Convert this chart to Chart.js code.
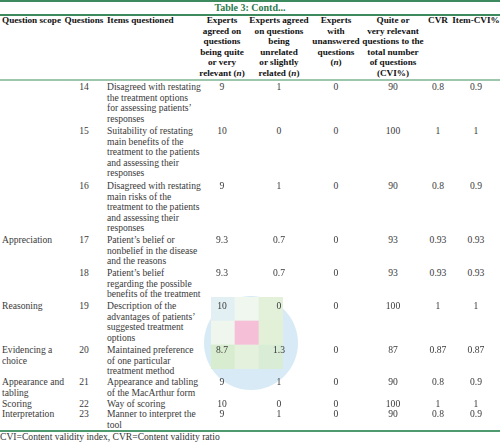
<!DOCTYPE html>
<html><head><meta charset="utf-8">
<script src="https://cdn.jsdelivr.net/npm/chart.js@4"></script>
<style>
body{margin:0;width:500px;height:442px;background:#fff;font-family:"Liberation Serif","Times New Roman",serif;position:relative;overflow:hidden}
#title{position:absolute;left:0;top:0;width:500px;height:12px;border-top:2px solid #3d8a5f;border-bottom:2px solid #3d8a5f;text-align:center;color:#2d7a4c;font-weight:bold;font-size:10px;line-height:12px}
.c{position:absolute;font-size:9.6px;line-height:10.6px;color:#3a3a3a;white-space:nowrap;z-index:3}
.h{font-weight:bold;color:#111;font-size:9.2px}
.ctr{transform:translateX(-50%);text-align:center}
#hline{position:absolute;left:0;top:79px;width:500px;border-top:2px solid #9cc7ac}
#foot{position:absolute;left:0;top:430px;width:500px;border-top:2px solid #4f9a6e;font-size:9.6px;color:#333;line-height:10px}
#wrap{position:absolute;left:203px;top:295px;width:96px;height:96px;opacity:.9}
#gwrap{position:absolute;left:211px;top:297px;width:72px;height:72px;z-index:2}
</style></head><body>
<div id="title">Table 3: Contd...</div>
<div id="hline"></div>
<div id="wrap"><canvas id="blob" width="96" height="96"></canvas></div>
<div id="gwrap"><canvas id="grid" width="72" height="72"></canvas></div>
<div id="foot">CVI=Content validity index, CVR=Content validity ratio</div>
<script>
const headers = ["Question scope", "Questions", "Items questioned",
  "Experts<br>agreed on<br>questions<br>being quite<br>or very<br>relevant (<i>n</i>)",
  "Experts agreed<br>on questions<br>being<br>unrelated<br>or slightly<br>related (<i>n</i>)",
  "Experts<br>with<br>unanswered<br>questions<br>(<i>n</i>)",
  "Quite or<br>very relevant<br>questions to the<br>total number<br>of questions<br>(CVI%)",
  "CVR", "Item-CVI%"];
const scopes = ["", "", "", "Appreciation", "", "Reasoning", "Evidencing a<br>choice", "Appearance and<br>tabling", "Scoring", "Interpretation"];
const questions = [14, 15, 16, 17, 18, 19, 20, 21, 22, 23];
const items = [
  "Disagreed with restating<br>the treatment options<br>for assessing patients’<br>responses",
  "Suitability of restating<br>main benefits of the<br>treatment to the patients<br>and assessing their<br>responses",
  "Disagreed with restating<br>main risks of the<br>treatment to the patients<br>and assessing their<br>responses",
  "Patient’s belief or<br>nonbelief in the disease<br>and the reasons",
  "Patient’s belief<br>regarding the possible<br>benefits of the treatment",
  "Description of the<br>advantages of patients’<br>suggested treatment<br>options",
  "Maintained preference<br>of one particular<br>treatment method",
  "Appearance and tabling<br>of the MacArthur form",
  "Way of scoring",
  "Manner to interpret the<br>tool"];
const agreedRelevant = [9, 10, 9, 9.3, 9.3, 10, 8.7, 9, 10, 9];
const agreedUnrelated = [1, 0, 1, 0.7, 0.7, 0, 1.3, 1, 0, 1];
const unanswered = [0, 0, 0, 0, 0, 0, 0, 0, 0, 0];
const cviPct = [90, 100, 90, 93, 93, 100, 87, 90, 100, 90];
const cvr = [0.8, 1, 0.8, 0.93, 0.93, 1, 0.87, 0.8, 1, 0.8];
const itemCvi = [0.9, 1, 0.9, 0.93, 0.93, 1, 0.87, 0.9, 1, 0.9];

// column anchors: left edge for text columns, centre for number columns
const colX = [2, 84, 107, 222, 279, 336, 393, 438, 476];
const centred = [false, true, false, true, true, true, true, true, true];
const rowTop = [82, 126, 181, 235, 268, 301, 345, 377, 399, 409];

function put(html, j, top, cls) {
  const d = document.createElement('div');
  d.className = 'c ' + cls + (centred[j] ? ' ctr' : '');
  d.style.left = colX[j] + 'px';
  d.style.top = top + 'px';
  d.innerHTML = html;
  document.body.appendChild(d);
}
headers.forEach((h, j) => put(h, j, 15, 'h'));
questions.forEach((q, i) => {
  const cells = [scopes[i], q, items[i], agreedRelevant[i], agreedUnrelated[i], unanswered[i], cviPct[i], cvr[i], itemCvi[i]];
  cells.forEach((v, j) => put(String(v), j, rowTop[i], ''));
});

// pixelated blot over the middle of the table: a pale circle with a 3x3 grid of tiles
const blotR = [47];
new Chart(document.getElementById('blob'), {
  type: 'bubble',
  data: { datasets: [{ data: blotR.map(r => ({ x: 0, y: 0, r })), backgroundColor: '#d3e8f6', borderWidth: 0, clip: false }] },
  options: { animation: false, responsive: false, events: [], layout: { padding: 0 },
    plugins: { legend: { display: false }, tooltip: { enabled: false } },
    scales: { x: { type: 'linear', display: false, min: -48, max: 48 }, y: { type: 'linear', display: false, min: -48, max: 48 } } }
});
const tileCols = ['a', 'b', 'c'];
const tileRowBottom = ['#d8ecd0', '#e4f1dc', '#d9ecd6'];
const tileRowMiddle = ['#eef6ee', '#f6bfd8', '#e3f0d8'];
const tileRowTop = ['#e2f0f4', '#f0f7ee', '#e3f0da'];
new Chart(document.getElementById('grid'), {
  type: 'bar',
  data: { labels: tileCols, datasets: [tileRowBottom, tileRowMiddle, tileRowTop].map(c => ({
    data: tileCols.map(() => 1), backgroundColor: c, borderWidth: 0, categoryPercentage: 1, barPercentage: 1 })) },
  options: { animation: false, responsive: false, events: [], layout: { padding: 0 },
    plugins: { legend: { display: false }, tooltip: { enabled: false } },
    scales: { x: { stacked: true, display: false }, y: { stacked: true, display: false, min: 0, max: 3 } } }
});
</script>
</body></html>
